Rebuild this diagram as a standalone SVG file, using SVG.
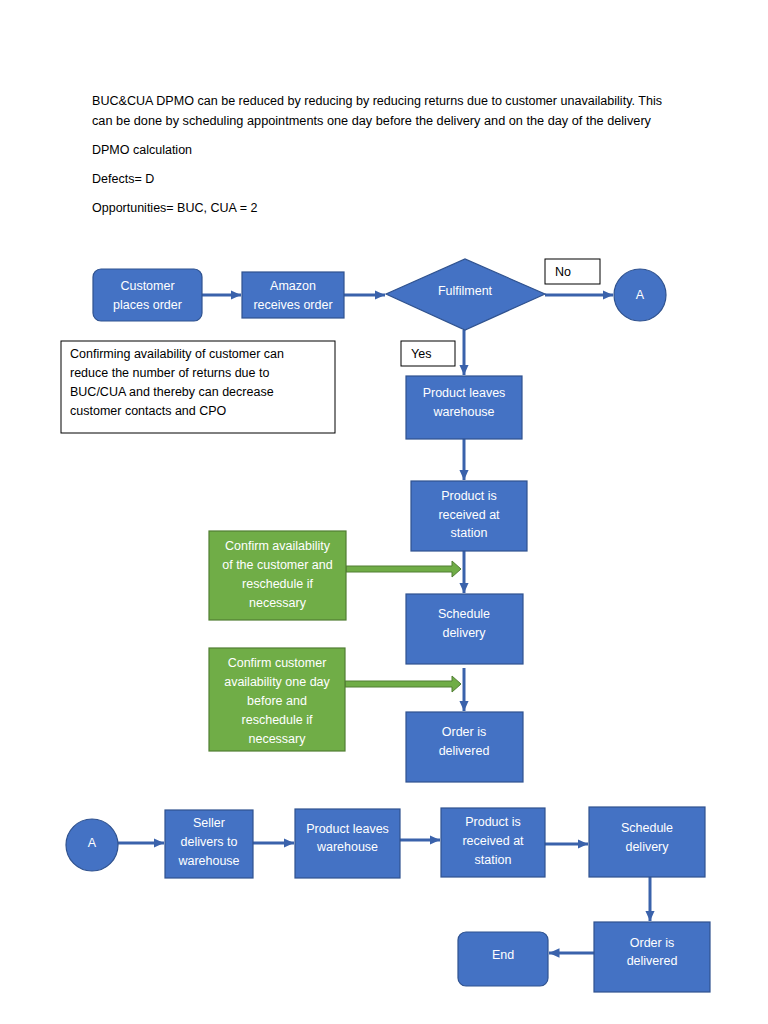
<svg xmlns="http://www.w3.org/2000/svg" width="768" height="1024" viewBox="0 0 768 1024">
<style>
text{font-family:"Liberation Sans",Arial,sans-serif;font-size:12.5px}
.t{fill:#000}
.w{fill:#fff;text-anchor:middle}
.b{fill:#4472c4;stroke:#2f528f;stroke-width:1.2}
.g{fill:#70ad47;stroke:#507e32;stroke-width:1.2}
.box{fill:#fff;stroke:#000;stroke-width:1}
.c{stroke:#3a62ab;stroke-width:3;fill:none;marker-end:url(#ah)}
.ga{fill:#70ad47;stroke:#507e32;stroke-width:1}
</style>
<defs>
<marker id="ah" markerWidth="4" markerHeight="4" refX="3.5" refY="2" orient="auto" markerUnits="strokeWidth">
<path d="M0,0.4 L3.5,2 L0,3.6 z" fill="#3a62ab"/>
</marker>
</defs>
<rect width="768" height="1024" fill="#fff"/>
<g id="intro">
<text class="t" x="92" y="105" textLength="570" lengthAdjust="spacingAndGlyphs">BUC&amp;CUA DPMO can be reduced by reducing by reducing returns due to customer unavailability. This</text>
<text class="t" x="92" y="125" textLength="559" lengthAdjust="spacingAndGlyphs">can be done by scheduling appointments one day before the delivery and on the day of the delivery</text>
<text class="t" x="92" y="154">DPMO calculation</text>
<text class="t" x="92" y="183">Defects= D</text>
<text class="t" x="92" y="212">Opportunities= BUC, CUA = 2</text>
</g>
<g id="connectors">
<line class="c" x1="202" y1="295" x2="241" y2="295"/>
<line class="c" x1="344" y1="295" x2="385" y2="295"/>
<line class="c" x1="545" y1="295" x2="613" y2="295"/>
<line class="c" x1="464" y1="330" x2="464" y2="375"/>
<line class="c" x1="464" y1="439" x2="464" y2="480"/>
<line class="c" x1="464" y1="551" x2="464" y2="593"/>
<line class="c" x1="464" y1="668" x2="464" y2="711"/>
<line class="c" x1="118" y1="843" x2="164" y2="843"/>
<line class="c" x1="253" y1="843" x2="294" y2="843"/>
<line class="c" x1="400" y1="840" x2="440" y2="840"/>
<line class="c" x1="545" y1="844" x2="588" y2="844"/>
<line class="c" x1="650" y1="877" x2="650" y2="921"/>
<line class="c" x1="594" y1="953" x2="549" y2="953"/>
<polygon class="ga" points="346,566 452,566 452,561 461,569 452,577 452,572 346,572"/>
<polygon class="ga" points="345,681 452,681 452,676 461,684 452,692 452,687 345,687"/>
</g>
<g id="n-customer"><rect class="b" x="93" y="269" width="109" height="52" rx="8"/><text class="w" x="147.5" y="290">Customer</text><text class="w" x="147.5" y="309">places order</text></g>
<g id="n-amazon"><rect class="b" x="242" y="272" width="102" height="46"/><text class="w" x="293" y="290">Amazon</text><text class="w" x="293" y="309">receives order</text></g>
<g id="n-fulfil"><polygon class="b" points="386,294 465,259 545,294 465,330"/><text class="w" x="465" y="295">Fulfilment</text></g>
<g id="n-no"><rect class="box" x="545" y="259" width="55" height="25"/><text class="t" x="555" y="276">No</text></g>
<g id="n-a1"><circle class="b" cx="640" cy="295" r="26"/><text class="w" x="640" y="299">A</text></g>
<g id="n-yes"><rect class="box" x="401" y="341" width="54" height="25"/><text class="t" x="411" y="358">Yes</text></g>
<g id="n-note"><rect class="box" x="61" y="341" width="274" height="92"/>
<text class="t" x="70" y="358">Confirming availability of customer can</text>
<text class="t" x="70" y="377">reduce the number of returns due to</text>
<text class="t" x="70" y="396">BUC/CUA and thereby can decrease</text>
<text class="t" x="70" y="415">customer contacts and CPO</text></g>
<g id="n-leaves1"><rect class="b" x="406" y="376" width="116" height="63"/><text class="w" x="464" y="397">Product leaves</text><text class="w" x="464" y="416">warehouse</text></g>
<g id="n-received1"><rect class="b" x="411" y="481" width="116" height="70"/><text class="w" x="469" y="500">Product is</text><text class="w" x="469" y="519">received at</text><text class="w" x="469" y="537">station</text></g>
<g id="n-schedule1"><rect class="b" x="406" y="594" width="117" height="70"/><text class="w" x="464" y="618">Schedule</text><text class="w" x="464" y="637">delivery</text></g>
<g id="n-delivered1"><rect class="b" x="406" y="712" width="117" height="70"/><text class="w" x="464" y="736">Order is</text><text class="w" x="464" y="755">delivered</text></g>
<g id="n-green1"><rect class="g" x="209" y="531" width="137" height="89"/><text class="w" x="277.5" y="550">Confirm availability</text><text class="w" x="277.5" y="569">of the customer and</text><text class="w" x="277.5" y="588">reschedule if</text><text class="w" x="277.5" y="607">necessary</text></g>
<g id="n-green2"><rect class="g" x="209" y="648" width="136" height="103"/><text class="w" x="277" y="667">Confirm customer</text><text class="w" x="277" y="686">availability one day</text><text class="w" x="277" y="705">before and</text><text class="w" x="277" y="724">reschedule if</text><text class="w" x="277" y="743">necessary</text></g>
<g id="n-a2"><circle class="b" cx="92" cy="845" r="26"/><text class="w" x="92" y="847">A</text></g>
<g id="n-seller"><rect class="b" x="165" y="810" width="88" height="68"/><text class="w" x="209" y="827">Seller</text><text class="w" x="209" y="846">delivers to</text><text class="w" x="209" y="865">warehouse</text></g>
<g id="n-leaves2"><rect class="b" x="295" y="809" width="105" height="69"/><text class="w" x="347.5" y="833">Product leaves</text><text class="w" x="347.5" y="851">warehouse</text></g>
<g id="n-received2"><rect class="b" x="441" y="808" width="104" height="69"/><text class="w" x="493" y="826">Product is</text><text class="w" x="493" y="845">received at</text><text class="w" x="493" y="864">station</text></g>
<g id="n-schedule2"><rect class="b" x="589" y="807" width="116" height="70"/><text class="w" x="647" y="832">Schedule</text><text class="w" x="647" y="851">delivery</text></g>
<g id="n-delivered2"><rect class="b" x="594" y="922" width="116" height="70"/><text class="w" x="652" y="947">Order is</text><text class="w" x="652" y="965">delivered</text></g>
<g id="n-end"><rect class="b" x="458" y="932" width="90" height="54" rx="8"/><text class="w" x="503" y="959">End</text></g>
</svg>
